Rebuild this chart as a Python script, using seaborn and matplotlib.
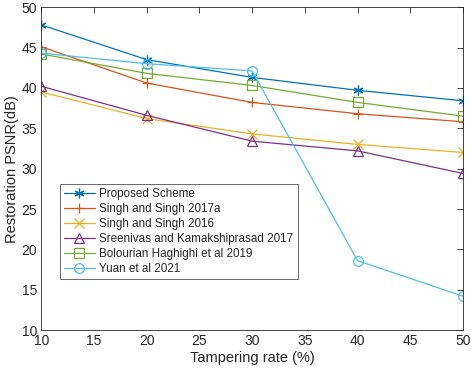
import numpy as np
import pandas as pd
import matplotlib
matplotlib.use("Agg")
import matplotlib.pyplot as plt
import seaborn as sns

rates = [10, 20, 30, 40, 50]
proposed = [47.8, 43.5, 41.3, 39.7, 38.4]
singh_2017a = [45.1, 40.6, 38.2, 36.8, 35.8]
singh_2016 = [39.5, 36.2, 34.3, 33.0, 32.0]
sreenivas = [40.2, 36.6, 33.4, 32.2, 29.4]
bolourian = [44.2, 41.8, 40.3, 38.2, 36.5]
yuan = [44.3, 43.0, 42.1, 18.6, 14.2]

labels = ["Proposed Scheme", "Singh and Singh 2017a", "Singh and Singh 2016",
          "Sreenivas and Kamakshiprasad 2017", "Bolourian Haghighi et al 2019",
          "Yuan et al 2021"]
series = [proposed, singh_2017a, singh_2016, sreenivas, bolourian, yuan]
colors = ["#0072BD", "#D95319", "#EDB120", "#7E2F8E", "#77AC30", "#4DBEEE"]
markers = [(6, 2, 0), "+", "x", "^", "s", "o"]

sns.set_style("white")
plt.rcParams['font.family'] = ['Liberation Sans', 'DejaVu Sans']

fig = plt.figure(figsize=(4.74, 3.76), dpi=100)
ax = fig.add_axes([0.087, 0.122, 0.89, 0.859])

for vals, lab, col, mk in zip(series, labels, colors, markers):
    df = pd.DataFrame({"rate": rates, "psnr": vals})
    sns.lineplot(data=df, x="rate", y="psnr", ax=ax, color=col, marker=mk,
                 markersize=7, markerfacecolor="none", markeredgecolor=col,
                 markeredgewidth=0.9, linewidth=0.9, label=lab)

ax.set_xlim(10, 50)
ax.set_ylim(10, 50)
ax.set_xticks(range(10, 51, 5))
ax.set_yticks(range(10, 51, 5))
ax.set_xlabel("Tampering rate (%)", fontsize=10.5, labelpad=2)
ax.set_ylabel("Restoration PSNR(dB)", fontsize=10.5, labelpad=2)
ax.tick_params(direction="in", top=True, right=True, length=4, width=0.6,
               labelsize=10, color="#262626", pad=3)
for s in ax.spines.values():
    s.set_color("#262626")
    s.set_linewidth(0.6)

leg = ax.legend(loc="lower left", bbox_to_anchor=(0.045, 0.158), fontsize=8.4,
                frameon=True, fancybox=False, borderpad=0.35, labelspacing=0.25,
                handlelength=2.6, handletextpad=0.4, borderaxespad=0)
leg.get_frame().set_edgecolor("#262626")
leg.get_frame().set_linewidth(0.6)

fig.savefig("out.png", dpi=100)
